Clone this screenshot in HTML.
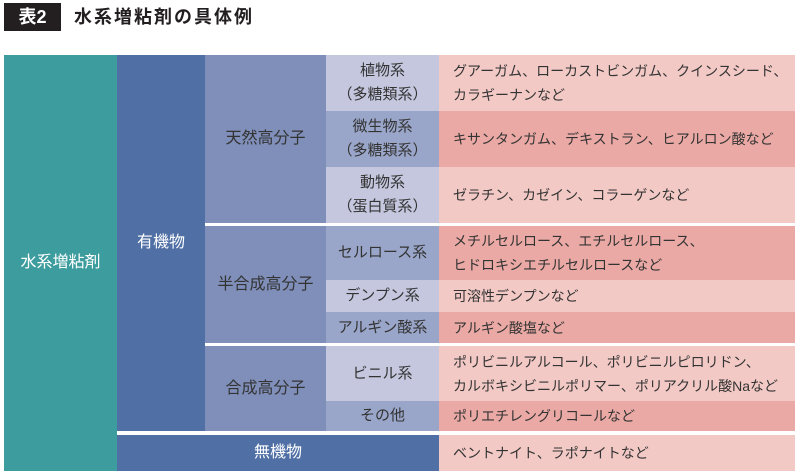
<!DOCTYPE html>
<html><head><meta charset="utf-8"><style>
body{margin:0;width:800px;height:471px;background:#fff;position:relative;overflow:hidden;font-family:"Liberation Sans","Noto Sans CJK JP",sans-serif;}
.c{position:absolute;display:flex;align-items:center;justify-content:center;text-align:center;font-size:15px;color:#333;line-height:24px;box-sizing:border-box}
.l{justify-content:flex-start;text-align:left;padding-left:14px;font-size:14px;line-height:24px}
.w{color:#fff}
.big{font-size:16px}
.t{background:#3d9c9e}.b{background:#4f6fa5}.m{background:#7f8fba}
.p{background:#c4c7de}.q{background:#9aa6c9}
.r{background:#f2c9c5}.s{background:#eaa9a4}
</style></head><body>
<div class="c w" style="left:4px;top:3px;width:57px;height:28px;background:#231f20;font-weight:bold;font-size:18px">表2</div>
<div class="c" style="left:74px;top:3px;height:28px;font-size:18px;font-weight:bold;color:#231f20;letter-spacing:2px">水系増粘剤の具体例</div>

<div class="c t w big" style="left:4px;top:55px;width:113px;height:416px">水系増粘剤</div>
<div class="c b w big" style="left:117px;top:55px;width:88px;height:376px;align-items:flex-start;padding-top:176px">有機物</div>
<div class="c m big" style="left:205px;top:55px;width:121px;height:168px">天然高分子</div>
<div class="c m big" style="left:205px;top:226px;width:121px;height:117px">半合成高分子</div>
<div class="c m big" style="left:205px;top:346px;width:121px;height:85px">合成高分子</div>
<div class="c b w big" style="left:117px;top:435px;width:322px;height:36px">無機物</div>

<div class="c p" style="left:326px;top:55px;width:113px;height:56px">植物系<br>（多糖類系）</div>
<div class="c q" style="left:326px;top:111px;width:113px;height:56px">微生物系<br>（多糖類系）</div>
<div class="c p" style="left:326px;top:167px;width:113px;height:56px">動物系<br>（蛋白質系）</div>
<div class="c q" style="left:326px;top:226px;width:113px;height:54px">セルロース系</div>
<div class="c p" style="left:326px;top:280px;width:113px;height:32px">デンプン系</div>
<div class="c q" style="left:326px;top:312px;width:113px;height:31px">アルギン酸系</div>
<div class="c p" style="left:326px;top:346px;width:113px;height:55px">ビニル系</div>
<div class="c q" style="left:326px;top:401px;width:113px;height:30px">その他</div>

<div class="c r l" style="left:439px;top:55px;width:356px;height:56px">グアーガム、ローカストビンガム、クインスシード、<br>カラギーナンなど</div>
<div class="c s l" style="left:439px;top:111px;width:356px;height:56px">キサンタンガム、デキストラン、ヒアルロン酸など</div>
<div class="c r l" style="left:439px;top:167px;width:356px;height:56px">ゼラチン、カゼイン、コラーゲンなど</div>
<div class="c s l" style="left:439px;top:226px;width:356px;height:54px">メチルセルロース、エチルセルロース、<br>ヒドロキシエチルセルロースなど</div>
<div class="c r l" style="left:439px;top:280px;width:356px;height:32px">可溶性デンプンなど</div>
<div class="c s l" style="left:439px;top:312px;width:356px;height:31px">アルギン酸塩など</div>
<div class="c r l" style="left:439px;top:346px;width:356px;height:55px">ポリビニルアルコール、ポリビニルピロリドン、<br>カルボキシビニルポリマー、ポリアクリル酸Naなど</div>
<div class="c s l" style="left:439px;top:401px;width:356px;height:30px">ポリエチレングリコールなど</div>
<div class="c r l" style="left:439px;top:435px;width:356px;height:36px">ベントナイト、ラポナイトなど</div>
</body></html>
